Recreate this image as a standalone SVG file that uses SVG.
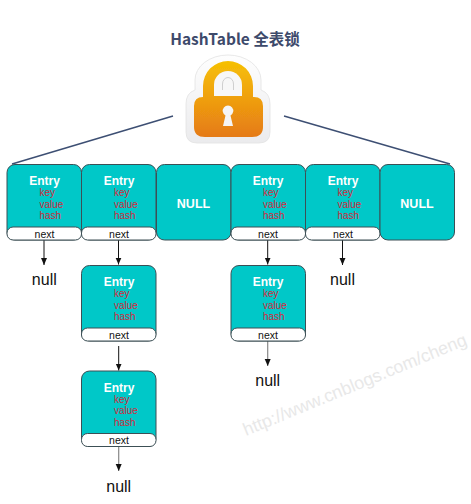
<svg xmlns="http://www.w3.org/2000/svg" width="471" height="504" viewBox="0 0 471 504">
<style>
text{font-family:"Liberation Sans",Arial,sans-serif}
.box{fill:#00c8c8;stroke:#3c4f55;stroke-width:1}
.nx{fill:#fff;stroke:#3c4f55;stroke-width:1}
.e{font-size:12px;font-weight:bold;fill:#fff;text-anchor:middle}
.f{font-size:10px;fill:#cf2a3c}
.n{font-size:10.5px;fill:#111;text-anchor:middle}
.nl{font-size:12.5px;font-weight:bold;fill:#fff;text-anchor:middle}
.nu{font-size:16px;fill:#111;text-anchor:middle}
.a{stroke:#111;stroke-width:1;fill:none;marker-end:url(#h)}
.g{stroke:#888;stroke-width:1.2;fill:none;marker-end:url(#h)}
.t{stroke:#3d4f73;stroke-width:1.5;fill:none}
</style>
<defs>
<marker id="h" markerUnits="userSpaceOnUse" markerWidth="7" markerHeight="7" refX="7" refY="3" orient="auto"><path d="M0 0L7 3L0 6Z" fill="#111"/></marker>
<linearGradient id="lk" x1="0" y1="0" x2="0" y2="1"><stop offset="0" stop-color="#f6c004"/><stop offset=".5" stop-color="#ef9f10"/><stop offset="1" stop-color="#e57a14"/></linearGradient>
<linearGradient id="sh" x1="0" y1="0" x2="0" y2="1"><stop offset="0" stop-color="#fefefe"/><stop offset="1" stop-color="#ebebed"/></linearGradient>
<filter id="bl" x="-5%" y="-5%" width="110%" height="110%"><feGaussianBlur stdDeviation="0.5"/></filter>
</defs>
<rect width="471" height="504" fill="#fff"/>
<text x="246" y="436" transform="rotate(-22.4 246 436)" font-size="17.800" fill="#e8e8e8" id="watermark">http://www.cnblogs.com/cheng</text>
<text x="235" y="44.500" text-anchor="middle" font-size="15.500" font-weight="bold" fill="#3d4a6b" style="font-family:'Noto Sans CJK SC','Liberation Sans',sans-serif" id="title">HashTable 全表锁</text>
<g id="lock" filter="url(#bl)">
<path d="M197 143Q186 143 186 132V104Q186 93 195 90V80A33 25 0 0 1 261 80V90Q270 93 270 104V132Q270 143 259 143Z" fill="url(#sh)" stroke="#e2e2e2" stroke-width=".8"/>
<path d="M203 97V86A25 25 0 0 1 253 86V97H254Q263 97 263 106V127Q263 137 252 137H205Q194 137 194 127V106Q194 97 203 97Z" fill="url(#lk)"/>
<path d="M214 96V85A14 14 0 0 1 242 85V96Z" fill="#f7f7f7"/>
<path d="M222.500 90V84A5.500 6.500 0 0 1 233.500 84V90" fill="none" stroke="#cfcfcf" stroke-width="1"/>
<path d="M223 126L225.500 115.500A5.300 5.300 0 1 1 230.500 115.500L233 126Z" fill="#f5f5f5"/>
</g>
<g id="connectors">
<path class="t" d="M173 116L12 164"/>
<path class="t" d="M284 116L450 164"/>
<path class="a" d="M44 240V265"/>
<path class="a" d="M118.500 240V264.500"/>
<path class="a" d="M267.700 240V264.500"/>
<path class="a" d="M342.500 240V265"/>
<path class="a" d="M118.700 346V370.500"/>
<path class="g" d="M118.700 446V471"/>
<path class="g" d="M267.700 341V366"/>
</g>
<g id="n1"><rect class="box" x="7" y="164.500" width="74.500" height="75.500" rx="8"/><rect class="nx" x="7" y="227" width="74.500" height="13" rx="6"/>
<text class="e" x="44.500" y="185">Entry</text><text class="f" x="39.500" y="196">key</text><text class="f" x="39.500" y="207.500">value</text><text class="f" x="39.500" y="219">hash</text><text class="n" x="44.500" y="237.500">next</text></g>
<g id="n2"><rect class="box" x="81.500" y="164.500" width="74.500" height="75.500" rx="8"/><rect class="nx" x="81.500" y="227" width="74.500" height="13" rx="6"/>
<text class="e" x="119" y="185">Entry</text><text class="f" x="114" y="196">key</text><text class="f" x="114" y="207.500">value</text><text class="f" x="114" y="219">hash</text><text class="n" x="119" y="237.500">next</text></g>
<g id="n3"><rect class="box" x="156.500" y="164.500" width="74.500" height="75.500" rx="8"/><text class="nl" x="193.500" y="207.500">NULL</text></g>
<g id="n4"><rect class="box" x="231" y="164.500" width="74.500" height="75.500" rx="8"/><rect class="nx" x="231" y="227" width="74.500" height="13" rx="6"/>
<text class="e" x="268" y="185">Entry</text><text class="f" x="263" y="196">key</text><text class="f" x="263" y="207.500">value</text><text class="f" x="263" y="219">hash</text><text class="n" x="268" y="237.500">next</text></g>
<g id="n5"><rect class="box" x="305.500" y="164.500" width="74.500" height="75.500" rx="8"/><rect class="nx" x="305.500" y="227" width="74.500" height="13" rx="6"/>
<text class="e" x="343" y="185">Entry</text><text class="f" x="337.500" y="196">key</text><text class="f" x="337.500" y="207.500">value</text><text class="f" x="337.500" y="219">hash</text><text class="n" x="343" y="237.500">next</text></g>
<g id="n6"><rect class="box" x="380" y="164.500" width="74.500" height="75.500" rx="8"/><text class="nl" x="417" y="207.500">NULL</text></g>
<g id="n7"><rect class="box" x="81.500" y="265.500" width="74.500" height="75.500" rx="8"/><rect class="nx" x="81.500" y="328" width="74.500" height="13" rx="6"/>
<text class="e" x="119" y="286">Entry</text><text class="f" x="114" y="297">key</text><text class="f" x="114" y="308.500">value</text><text class="f" x="114" y="320">hash</text><text class="n" x="119" y="338.500">next</text></g>
<g id="n8"><rect class="box" x="81.500" y="371" width="74.500" height="75.500" rx="8"/><rect class="nx" x="81.500" y="433.500" width="74.500" height="13" rx="6"/>
<text class="e" x="119" y="391.500">Entry</text><text class="f" x="114" y="402.500">key</text><text class="f" x="114" y="414">value</text><text class="f" x="114" y="425.500">hash</text><text class="n" x="119" y="444">next</text></g>
<g id="n9"><rect class="box" x="231" y="265.500" width="74.500" height="75.500" rx="8"/><rect class="nx" x="231" y="328" width="74.500" height="13" rx="6"/>
<text class="e" x="268" y="286">Entry</text><text class="f" x="263" y="297">key</text><text class="f" x="263" y="308.500">value</text><text class="f" x="263" y="320">hash</text><text class="n" x="268" y="338.500">next</text></g>
<g id="nulls">
<text class="nu" x="44.300" y="285">null</text>
<text class="nu" x="342.500" y="285">null</text>
<text class="nu" x="267.700" y="386">null</text>
<text class="nu" x="118.700" y="491.500">null</text>
</g>
</svg>
